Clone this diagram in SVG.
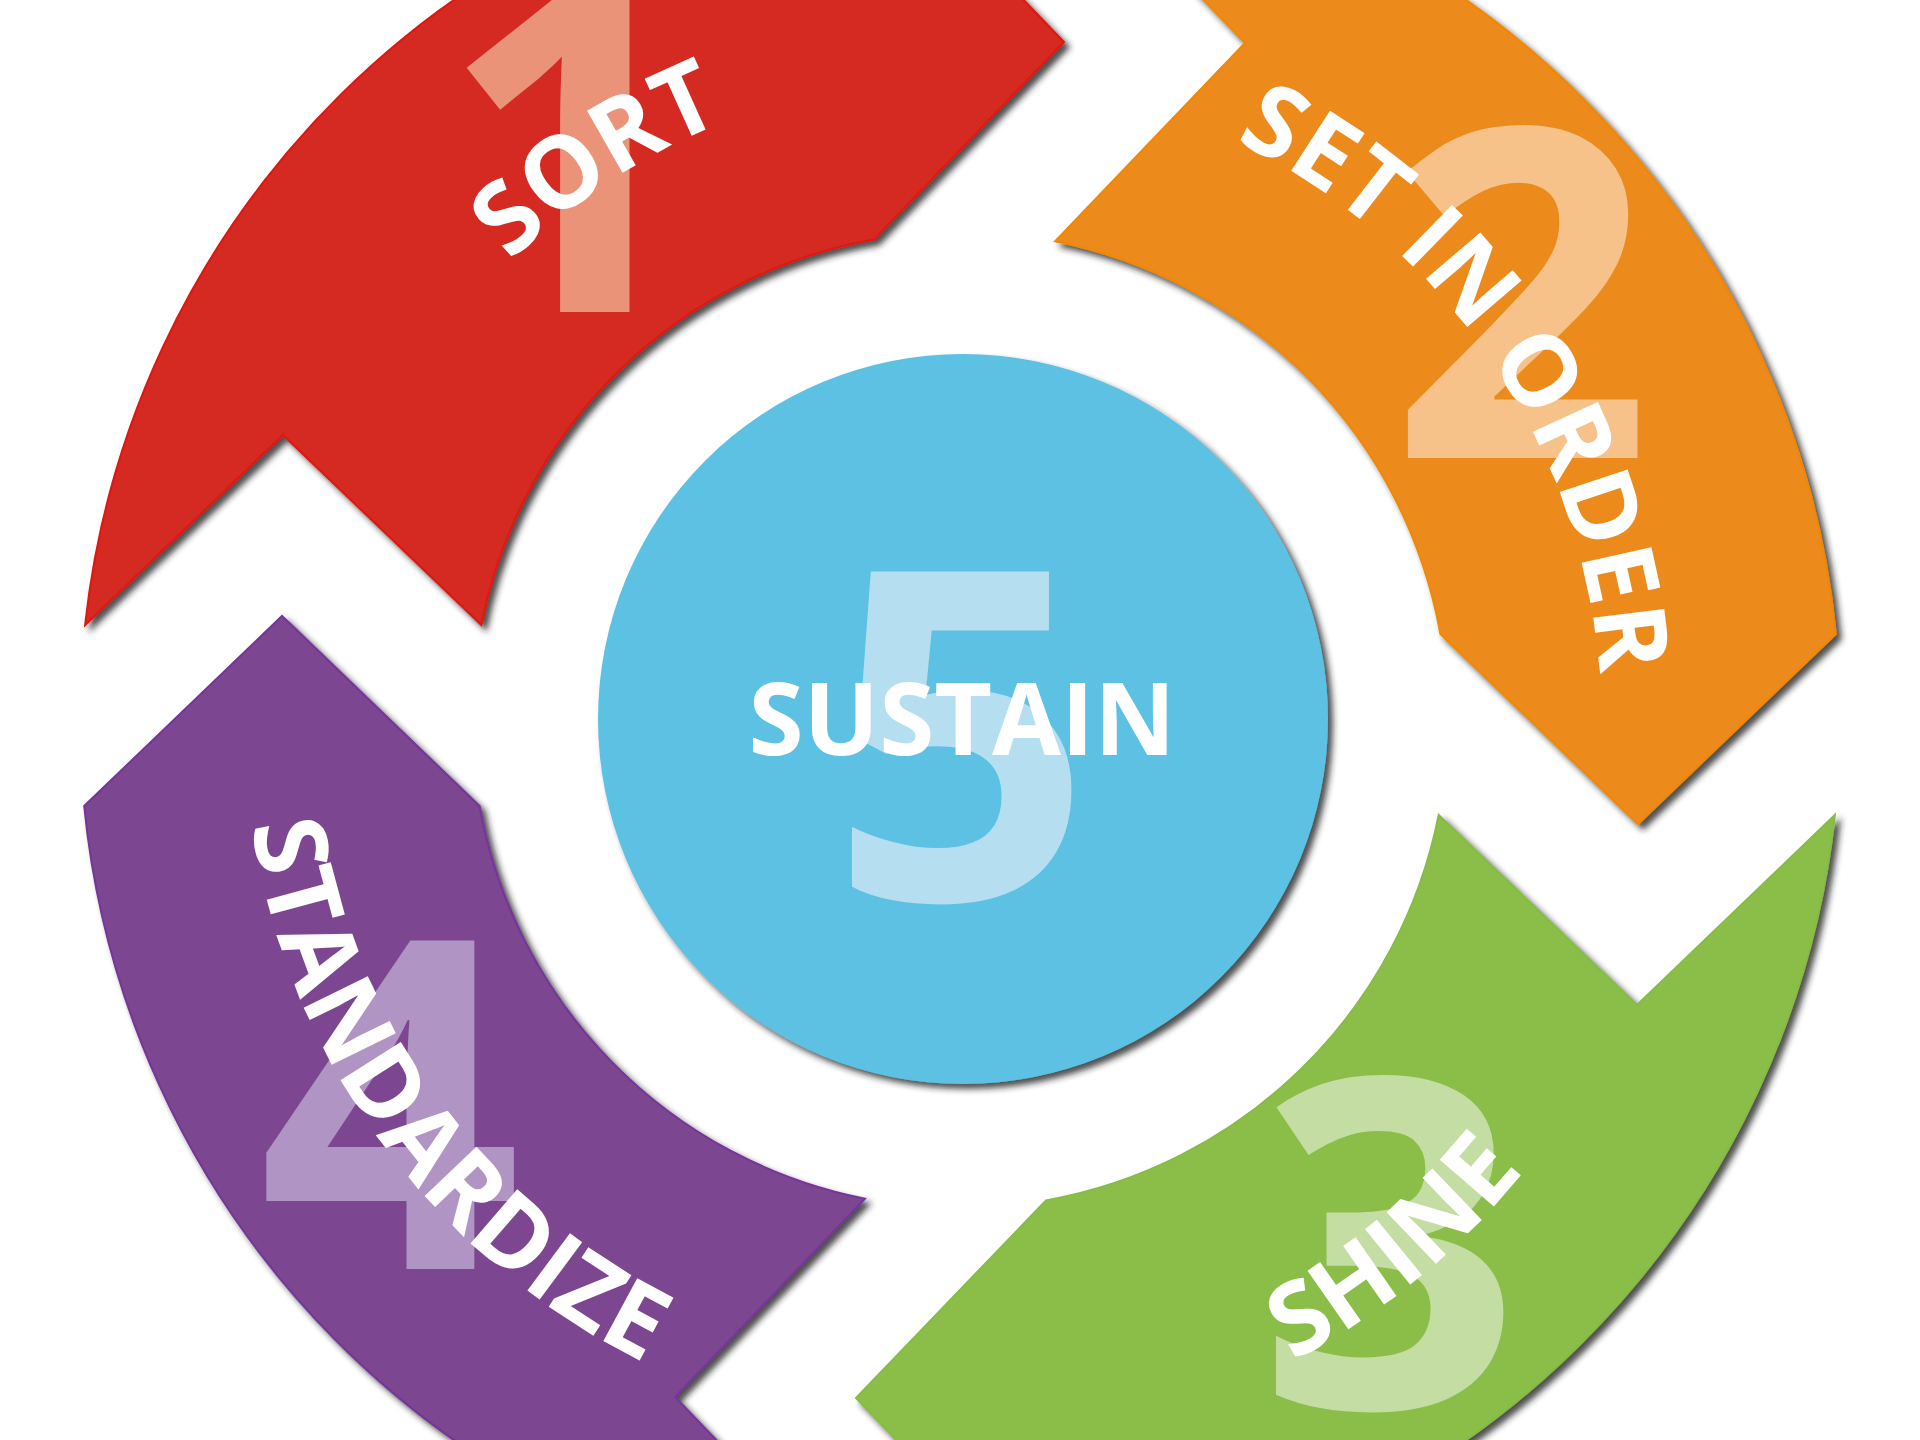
<svg xmlns="http://www.w3.org/2000/svg" xmlns:xlink="http://www.w3.org/1999/xlink" width="1920" height="1440" viewBox="0 0 1920 1440">
  <defs>
    <filter id="sh" x="-10%" y="-10%" width="120%" height="120%">
      <feDropShadow dx="5" dy="5" stdDeviation="3" flood-color="#222222" flood-opacity="0.8"/>
    </filter>
    <path id="arrow" d="M -874.9 -95 A 880 880 0 0 1 -86 -875.8 L 104 -678 L -86 -480.4 A 488 488 0 0 0 -478.7 -95 L -677 -285 Z"/>
    <path id="pSort" d="M 345.2 538.6 A 645 645 0 0 1 1044.9 80.6"/>
    <path id="pSet" d="M 1132.9 102.8 A 641 641 0 0 1 1597.9 783.1"/>
    <path id="pStd" d="M 245.6 671.9 A 716 716 0 0 0 788.6 1415.2"/>
    <path id="pShine" d="M 952.4 1442 A 722 722 0 0 0 1669.7 852.8"/>
  </defs>
  <style>
    .digit { font-family: "Open Sans", "Liberation Sans", sans-serif; font-weight: 700; font-size: 460px; text-anchor: middle; }
    .label { font-family: "Open Sans", "Liberation Sans", sans-serif; font-weight: 700; font-size: 100px; fill: #ffffff; text-anchor: middle; }
  </style>
  <rect x="0" y="0" width="1920" height="1440" fill="#ffffff"/>

  <g id="sort">
    <g filter="url(#sh)"><use xlink:href="#arrow" transform="translate(960 720)" fill="#D42A20" stroke="#E3130F" stroke-width="2"/></g>
    <text class="digit" x="571" y="312" fill="#EA9379">1</text>
    <text class="label"><textPath xlink:href="#pSort" startOffset="50%">SORT</textPath></text>
  </g>

  <g id="set-in-order">
    <g filter="url(#sh)"><use xlink:href="#arrow" transform="translate(960 720) rotate(90)" fill="#EC8A1C" stroke="#F08800" stroke-width="2"/></g>
    <text class="digit" x="1521" y="458" fill="#F6C289">2</text>
    <text class="label"><textPath xlink:href="#pSet" startOffset="50%">SET IN ORDER</textPath></text>
  </g>

  <g id="shine">
    <g filter="url(#sh)"><use xlink:href="#arrow" transform="translate(960 720) rotate(180)" fill="#8ABE4A" stroke="#86BC44" stroke-width="2"/></g>
    <text class="digit" x="1390" y="1408" fill="#C4DDA3">3</text>
    <text class="label"><textPath xlink:href="#pShine" startOffset="50%">SHINE</textPath></text>
  </g>

  <g id="standardize">
    <g filter="url(#sh)"><use xlink:href="#arrow" transform="translate(960 720) rotate(270)" fill="#7B4690" stroke="#74359A" stroke-width="2"/></g>
    <text class="digit" x="390" y="1269" fill="#B094C4">4</text>
    <text class="label"><textPath xlink:href="#pStd" startOffset="50%">STANDARDIZE</textPath></text>
  </g>

  <g id="sustain">
    <circle cx="963" cy="719" r="365" fill="#5BC1E3" filter="url(#sh)"/>
    <text class="digit" x="961" y="900" fill="#B5DFF0">5</text>
    <text class="label" x="962" y="755" font-size="105">SUSTAIN</text>
  </g>
</svg>
